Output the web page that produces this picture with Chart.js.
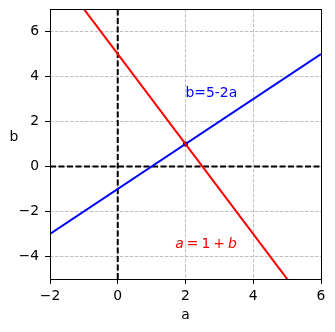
<!DOCTYPE html>
<html><head><meta charset="utf-8">
<script src="https://cdn.jsdelivr.net/npm/chart.js@4/dist/chart.umd.min.js"></script>
<style>html,body{margin:0;padding:0;background:#fff;}canvas{display:block;}</style>
</head><body>
<canvas id="c" width="335" height="332"></canvas>
<script>
// ---- data ----
const aValues = [-2, 6];          // a endpoints
const redB = [9, -7];             // b = 5 - 2a
const blueB = [-3, 5];            // a = 1 + b
const pointA = [2];
const pointB = [1];
const xTicks = [-2, 0, 2, 4, 6];
const yTicks = [-4, -2, 0, 2, 4, 6];
const xRange = [-2, 6];
const yRange = [-5, 7];
const blueLabel = 'b=5-2a';
const blueLabelAt = [2, 3.1];
const redLabelParts = ['a', '=', '1', '+', 'b'];
const redLabelAt = [1.7, -3.6];
const xTitle = 'a';
const yTitle = 'b';

const FONT = '"DejaVu Sans", sans-serif';
const FS = 13.9;
const minus = v => String(v).replace('-', '\u2212');

const redData = aValues.map((a, i) => ({x: a, y: redB[i]}));
const blueData = aValues.map((a, i) => ({x: a, y: blueB[i]}));
const ptData = pointA.map((a, i) => ({x: a, y: pointB[i]}));
const vZero = yRange.map(b => ({x: 0, y: b}));
const hZero = xRange.map(a => ({x: a, y: 0}));

const overlay = {
  id: 'overlay',
  beforeDraw(chart) {
    const ctx = chart.ctx;
    ctx.save(); ctx.fillStyle = '#fff'; ctx.fillRect(0, 0, chart.width, chart.height); ctx.restore();
  },
  afterDatasetsDraw(chart) {
    const {ctx, chartArea: ca, scales: {x, y}} = chart;
    ctx.save();
    ctx.strokeStyle = '#000'; ctx.lineWidth = 1;
    ctx.strokeRect(Math.round(ca.left) + 0.5, Math.round(ca.top) + 0.5,
      Math.round(ca.right - ca.left), Math.round(ca.bottom - ca.top));
    ctx.font = FS + 'px ' + FONT;
    ctx.fillStyle = '#0000ff';
    ctx.textAlign = 'left'; ctx.textBaseline = 'alphabetic';
    ctx.fillText(blueLabel, x.getPixelForValue(blueLabelAt[0]), y.getPixelForValue(blueLabelAt[1]));
    ctx.fillStyle = '#ff0000';
    let px = x.getPixelForValue(redLabelAt[0]);
    const py = y.getPixelForValue(redLabelAt[1]);
    redLabelParts.forEach(p => {
      const italic = /[a-z]/.test(p);
      ctx.font = (italic ? 'italic ' : '') + FS + 'px ' + FONT;
      ctx.fillText(p, px, py);
      px += ctx.measureText(p).width + 3;
    });
    ctx.font = FS + 'px ' + FONT;
    ctx.fillStyle = '#000';
    ctx.textAlign = 'center'; ctx.textBaseline = 'middle';
    ctx.fillText(xTitle, (ca.left + ca.right) / 2, 315);
    ctx.fillText(yTitle, 14, 137);
    ctx.restore();
  }
};

const gridCommon = {
  color: '#b0b0b0', lineWidth: 0.8, drawTicks: true, tickLength: 5,
  tickColor: '#000', tickWidth: 1, tickBorderDash: []
};

new Chart(document.getElementById('c'), {
  type: 'scatter',
  data: {
    datasets: [
      {data: redData, showLine: true, borderColor: '#ff0000', borderWidth: 2, pointRadius: 0},
      {data: blueData, showLine: true, borderColor: '#0000ff', borderWidth: 2, pointRadius: 0},
      {data: ptData, showLine: false, backgroundColor: '#000', borderColor: '#000', pointRadius: 2.5, borderWidth: 0},
      {data: vZero, showLine: true, borderColor: '#000', borderWidth: 2, borderDash: [6, 2.5], pointRadius: 0},
      {data: hZero, showLine: true, borderColor: '#000', borderWidth: 2, borderDash: [6, 2.5], pointRadius: 0}
    ]
  },
  options: {
    responsive: false, animation: false, devicePixelRatio: 1,
    layout: {padding: {left: 0, top: 9, right: 14, bottom: 0}},
    plugins: {legend: {display: false}, tooltip: {enabled: false}},
    elements: {line: {tension: 0}},
    scales: {
      x: {
        type: 'linear', min: xRange[0], max: xRange[1],
        afterBuildTicks: s => { s.ticks = xTicks.map(v => ({value: v})); },
        afterFit: s => { s.height = 53; s.paddingLeft = 0; s.paddingRight = 0; },
        grid: gridCommon,
        border: {display: false, color: '#000', width: 1, dash: [3.5, 1.5]},
        ticks: {color: '#000', font: {family: FONT, size: FS}, padding: 4, maxRotation: 0, callback: minus}
      },
      y: {
        type: 'linear', min: yRange[0], max: yRange[1],
        afterBuildTicks: s => { s.ticks = yTicks.map(v => ({value: v})); },
        afterFit: s => { s.width = 50; s.paddingTop = 0; s.paddingBottom = 0; },
        grid: gridCommon,
        border: {display: false, color: '#000', width: 1, dash: [3.5, 1.5]},
        ticks: {color: '#000', font: {family: FONT, size: FS}, padding: 6, callback: minus}
      }
    }
  },
  plugins: [overlay]
});
</script>
</body></html>
